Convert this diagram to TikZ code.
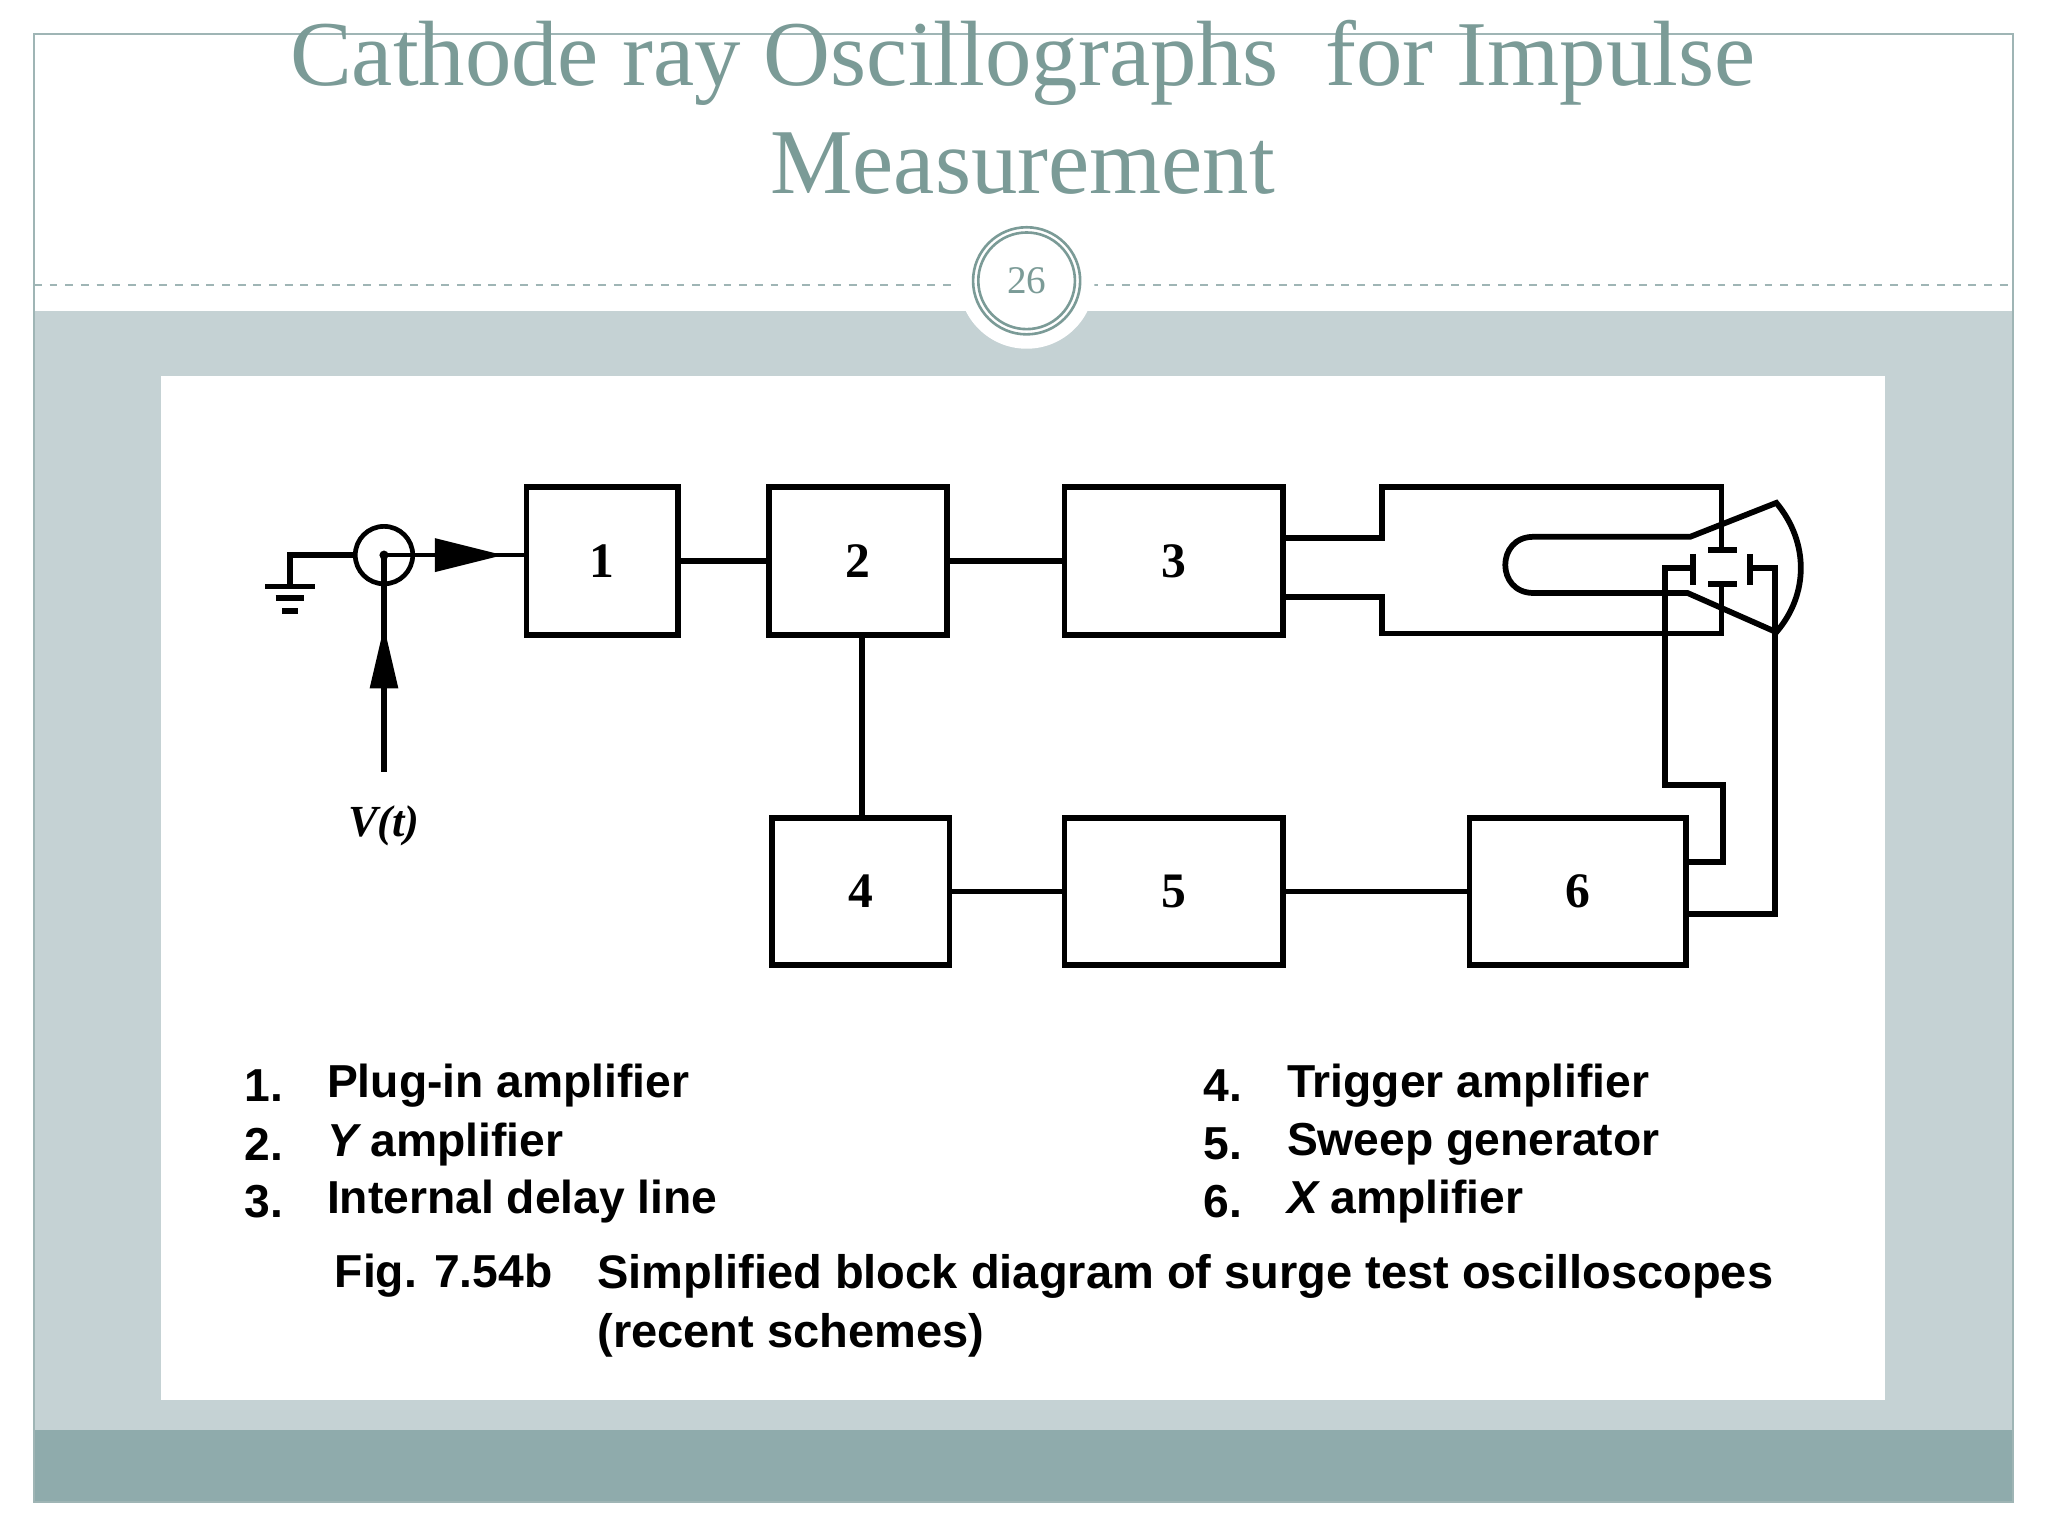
\documentclass[tikz,border=0pt]{standalone}
\usepackage{fontspec}
\setmainfont{Liberation Serif}
\newfontfamily\lsans{Liberation Sans}
\definecolor{ttl}{HTML}{7B9B97}
\definecolor{band}{HTML}{C5D2D4}
\definecolor{bar}{HTML}{8FABAC}
\definecolor{frm}{HTML}{9FB5B5}
\begin{document}
\begin{tikzpicture}[x=0.5pt,y=-0.5pt,
  blk/.style={draw,line width=2.2pt,inner sep=0pt},
  ln/.style={line width=2.2pt},
  num/.style={font=\fontsize{19}{19}\selectfont\bfseries},
  leg/.style={font=\lsans\fontsize{17.7}{20}\selectfont\bfseries,anchor=west,inner sep=0pt}]
\useasboundingbox (0,0) rectangle (1568,1176);
\fill[white] (0,0) rectangle (1568,1176);
\fill[band] (26,238) rectangle (1541,1095);
\fill[bar] (26,1095) rectangle (1541,1150);
\draw[frm,line width=0.6pt] (26,26) rectangle (1541,1150);
\draw[frm,dashed,line width=0.6pt] (26,218) -- (735,218) (835,218) -- (1541,218);
\fill[white] (786,215) circle (52);
\draw[ttl,line width=1pt] (786,215) circle (41);
\draw[ttl,line width=1pt] (786,215) circle (37);
\node[ttl,font=\fontsize{15}{15}\selectfont] (pg) at (786,215) {26};
\node[ttl,font=\fontsize{35.5}{40}\selectfont] (t1) at (783,48) {Cathode ray Oscillographs\ \ for Impulse};
\node[ttl,font=\fontsize{35.5}{40}\selectfont] (t2) at (783,125) {Measurement};
\fill[white] (123,288) rectangle (1443,1072);
% blocks
\node[blk,minimum width=58pt,minimum height=56.5pt,num] (b1) at (461,429.5) {1};
\node[blk,minimum width=68pt,minimum height=56.5pt,num] (b2) at (657,429.5) {2};
\node[blk,minimum width=83.5pt,minimum height=56.5pt,num] (b3) at (898.5,429.5) {3};
\node[blk,minimum width=68pt,minimum height=56.5pt,num] (b4) at (659,682.5) {4};
\node[blk,minimum width=83.5pt,minimum height=56.5pt,num] (b5) at (898.5,682.5) {5};
\node[blk,minimum width=83pt,minimum height=56.5pt,num] (b6) at (1208,682.5) {6};
\draw[ln] (b1.east) -- (b2.west);
\draw[ln] (b2.east) -- (b3.west);
\draw[ln] (b2.south -| 660,0) -- (b4.north -| 660,0);
\draw[ln] (b4.east) -- (b5.west);
\draw[ln] (b5.east) -- (b6.west);
% input
\coordinate (in) at (294,425);
\node[draw,circle,line width=1.8pt,minimum size=22pt,inner sep=0pt] (c) at (in) {};
\fill (in) circle (3.5);
\draw[ln] (c.west) -- (222,425) -- (222,449);
\draw[ln] (203,449) -- (241,449) (211,458) -- (233,458) (216,468) -- (228,468);
\draw[line width=1.5pt] (in) -- (b1.west |- in);
\fill (333,412) -- (385,425) -- (333,438) -- cycle;
\coordinate (vt) at (294,591);
\draw[ln] (vt) -- (in);
\fill (294,480) -- (305,527) -- (283,527) -- cycle;
\node[font=\fontsize{17}{17}\selectfont\bfseries\itshape] (vl) at (294,632) {V(t)};
% CRT
\draw[ln] (b3.east |- 0,412) -- (1058,412) -- (1058,373) -- (1318,373) -- (1318,419);
\draw[ln] (b3.east |- 0,457) -- (1058,457) -- (1058,485) -- (1318,485) -- (1318,448);
\draw[ln] (1308,421) -- (1330,421) (1308,447) -- (1330,447);
\draw[ln] (1296,424) -- (1296,448) (1340,424) -- (1340,448);
\draw[ln] (1174,411) -- (1294,411) -- (1360,385) .. controls (1385,415) and (1385,455) .. (1360,484) -- (1292,454) -- (1174,454) .. controls (1145.3,454) and (1145.3,411) .. (1174,411);
\draw[ln] (1296,435) -- (1275,435) -- (1275,601) -- (1319,601) -- (1319,660) -- (b6.east |- 0,660);
\draw[ln] (1340,435) -- (1359,435) -- (1359,700) -- (b6.east |- 0,700);
% legend
\node[leg] (l1n) at (187,831) {1.}; \node[leg] (l1) at (250,831) {Plug-in amplifier};
\node[leg] (l2n) at (187,876) {2.}; \node[leg] (l2) at (250,876) {\itshape Y\upshape\ amplifier};
\node[leg] (l3n) at (187,920) {3.}; \node[leg] (l3) at (250,920) {Internal delay line};
\node[leg] (l4n) at (921,831) {4.}; \node[leg] (l4) at (985,831) {Trigger amplifier};
\node[leg] (l5n) at (921,876) {5.}; \node[leg] (l5) at (985,876) {Sweep generator};
\node[leg] (l6n) at (921,920) {6.}; \node[leg] (l6) at (985,920) {\itshape X\upshape\ amplifier};
\node[leg] (fg) at (256,977) {Fig. 7.54b};
\node[leg,font=\lsans\fontsize{18}{20}\selectfont\bfseries] (cp1) at (457,977) {Simplified block diagram of surge test oscilloscopes};
\node[leg,font=\lsans\fontsize{18}{20}\selectfont\bfseries] (cp2) at (457,1022) {(recent schemes)};
\end{tikzpicture}
\end{document}
